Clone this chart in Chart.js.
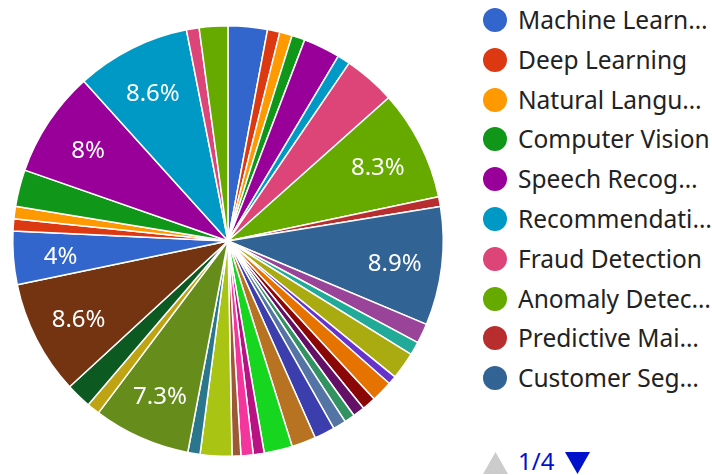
<!DOCTYPE html>
<html>
<head>
<meta charset="utf-8">
<script src="https://cdn.jsdelivr.net/npm/chart.js@4"></script>
<style>
    html, body { margin: 0; padding: 0; background: #fff; }
    body { width: 712px; height: 475px; position: relative; overflow: hidden; font-family: "Noto Sans", sans-serif; }
    #pie-wrap { position: absolute; left: 0; top: 0; width: 456px; height: 475px; }
    #legend { position: absolute; left: 483px; top: 0; width: 229px; }
    .leg-item { position: absolute; left: 0; height: 40px; width: 229px; }
    .leg-dot { position: absolute; left: 0; width: 24px; height: 24px; border-radius: 50%; }
    .leg-text { position: absolute; left: 35px; width: 194px; font-size: 24.5px; color: #222; white-space: nowrap; overflow: hidden; text-overflow: ellipsis; line-height: 32px; }
    #pager { position: absolute; left: 483px; top: 448px; height: 28px; font-size: 24px; color: #0011cc; }
</style>
</head>
<body>
<div id="pie-wrap"><canvas id="chart-pie"></canvas></div>
<div id="legend"></div>
<div id="pager">
    <svg width="120" height="28" style="position:absolute;left:0;top:0">
        <polygon points="0,26 12.5,4 25,26" fill="#cccccc"></polygon>
        <polygon points="82,4 107,4 94.5,26" fill="#0011cc"></polygon>
    </svg>
    <span style="position:absolute;left:35px;top:-4px">1/4</span>
</div>
<script>
// ── Data ─────────────────────────────────────────────────
const labels = [
    'Machine Learning', 'Deep Learning', 'Natural Language Processing', 'Computer Vision',
    'Speech Recognition', 'Recommendation Systems', 'Fraud Detection', 'Anomaly Detection',
    'Predictive Maintenance', 'Customer Segmentation', 'Sentiment Analysis', 'Image Classification',
    'Object Detection', 'Time Series Forecasting', 'Reinforcement Learning', 'Generative Models',
    'Chatbots', 'Autonomous Vehicles', 'Medical Diagnosis', 'Robotics',
    'Text Summarization', 'Machine Translation', 'Facial Recognition', 'Supply Chain Optimization',
    'Credit Scoring', 'Churn Prediction', 'Drug Discovery', 'Demand Forecasting',
    'Quality Inspection', 'Personalization', 'Search Ranking', 'Voice Assistants',
    'Cybersecurity', 'Document OCR', 'Price Optimization', 'Spam Filtering',
    'Risk Assessment', 'Route Optimization', 'Energy Forecasting',
];
const shares = [
    2.95, 0.93, 0.94, 0.99, 2.77, 0.96, 3.9, 8.3, 0.75, 8.9,
    1.5, 1.0, 2.06, 0.64, 1.61, 1.04, 0.89, 0.79, 0.99, 1.54,
    1.82, 2.13, 0.82, 0.92, 0.66, 2.38, 0.92, 7.3, 0.97, 1.92,
    8.6, 4.0, 0.91, 0.94, 2.76, 8.0, 8.6, 0.95, 2.15,
];
const palette = [
    '#3366cc', '#dc3912', '#ff9900', '#109618', '#990099', '#0099c6', '#dd4477', '#66aa00',
    '#b82e2e', '#316395', '#994499', '#22aa99', '#aaaa11', '#6633cc', '#e67300', '#8b0707',
    '#651067', '#329262', '#5574a6', '#3b3eac', '#b77322', '#16d620', '#b91383', '#f4359e',
    '#9c5935', '#a9c413', '#2a778d', '#668d1c', '#bea413', '#0c5922', '#743411',
];
const sliceColors = shares.map((_, i) => palette[i % palette.length]);
const legendPageSize = 10;

// ── Slice labels ─────────────────────────────────────────
const total = shares.reduce((s, v) => s + v, 0);
function fmtPct(v) {
    return (v / total * 100).toFixed(1).replace(/\.0$/, '') + '%';
}

const sliceLabels = {
    id: 'sliceLabels',
    afterDatasetsDraw(chart) {
        const ctx = chart.ctx;
        const arcs = chart.getDatasetMeta(0).data;
        ctx.save();
        ctx.fillStyle = '#ffffff';
        ctx.font = '24px "Noto Sans"';
        ctx.textAlign = 'center';
        ctx.textBaseline = 'middle';
        arcs.forEach((arc, i) => {
            if (shares[i] / total * 100 < 3.95) return;
            const mid = (arc.startAngle + arc.endAngle) / 2;
            const r = arc.outerRadius * 0.78;
            ctx.fillText(fmtPct(shares[i]), arc.x + Math.cos(mid) * r, arc.y + Math.sin(mid) * r + 3);
        });
        ctx.restore();
    },
};

new Chart(document.getElementById('chart-pie').getContext('2d'), {
    type: 'pie',
    data: {
        labels,
        datasets: [{
            data: shares,
            backgroundColor: sliceColors,
            borderColor: '#ffffff',
            borderWidth: 1.5,
        }],
    },
    options: {
        responsive: true,
        maintainAspectRatio: false,
        animation: false,
        layout: { padding: { top: 25, bottom: 18 } },
        plugins: {
            legend: { display: false },
            tooltip: { enabled: false },
        },
    },
    plugins: [sliceLabels],
});

// ── Legend (first page) ──────────────────────────────────
const $legend = document.getElementById('legend');
labels.slice(0, legendPageSize).forEach((name, i) => {
    const y = 20 + i * 39.8;
    $legend.insertAdjacentHTML('beforeend', `
        <div class="leg-item" style="top:${y - 20}px">
            <div class="leg-dot" style="top:8px;background:${sliceColors[i]}"></div>
            <div class="leg-text" style="top:4px">${name}</div>
        </div>`);
});
</script>
</body>
</html>
